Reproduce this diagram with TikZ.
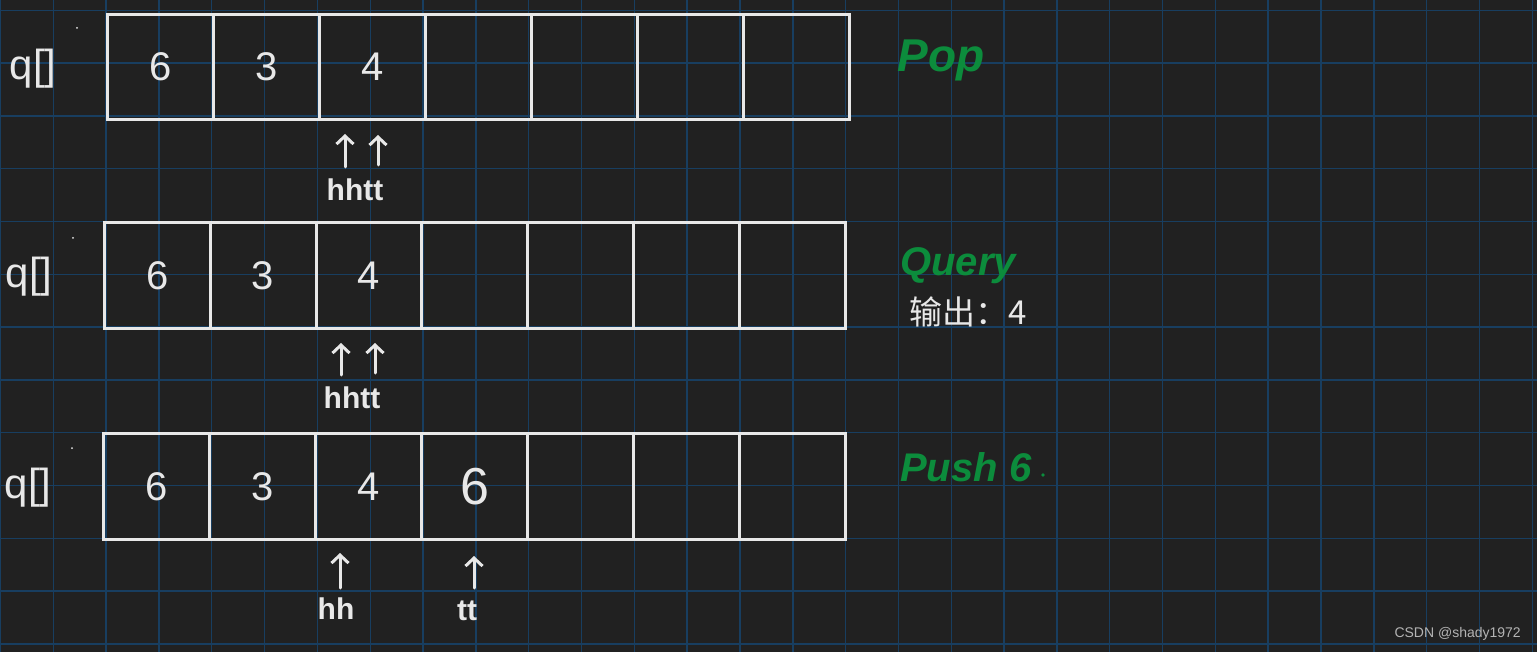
\documentclass[tikz,border=0pt]{standalone}
\usepackage{fontspec}
\setmainfont{Liberation Sans}
\newfontfamily\cjk{Noto Sans CJK SC}
\usetikzlibrary{arrows.meta}
\definecolor{bg}{HTML}{212121}
\definecolor{gridblue}{HTML}{183E60}
\definecolor{ink}{HTML}{E8E8E8}
\definecolor{pen}{HTML}{0C8C3C}
\definecolor{wm}{HTML}{B4B4B4}
\newcommand{\fs}[1]{\fontsize{#1}{#1}\selectfont}
\begin{document}
\begin{tikzpicture}[x=1pt,y=-1pt,
  cellbox/.style={draw=ink,line width=3pt,minimum width=105.86pt,minimum height=105.5pt,
    inner sep=0pt,outer sep=0pt,text=ink,font=\fs{40}},
  bigdigit/.style={font=\fs{52}},
  qlabel/.style={text=ink,font=\fs{42},inner sep=0pt},
  ptrlabel/.style={text=ink,font=\bfseries\fs{30},inner sep=0pt},
  ptr/.style={draw=ink,line width=3pt,line cap=round,-{Straight Barb[length=8pt,width=17pt,line width=3pt]}},
  optext/.style={text=pen,font=\bfseries\itshape\fs{40},inner sep=0pt},
  outtext/.style={text=ink,font=\cjk\fs{33},inner sep=0pt},
  wmtext/.style={text=wm,font=\fs{14},inner sep=0pt},
  gridline/.style={draw=gridblue,line width=1.4pt}]
\useasboundingbox (0,0) rectangle (1537,652);
\fill[bg] (0,0) rectangle (1537,652);
% grid
\foreach \k in {0,...,29} \draw[gridline] ({0.5+52.82*\k},0) -- ({0.5+52.82*\k},652);
\foreach \k in {0,...,12} \draw[gridline] (0,{10.3+52.8*\k}) -- (1537,{10.3+52.8*\k});

% ---------- row 1 : Pop ----------
\node[qlabel] (q1) at (33,69) {q[]};
\fill[ink] (77,28) circle (1);
\node[cellbox] (a0) at (160.9,67) {6};
\node[cellbox] (a1) at (266.8,67) {3};
\node[cellbox] (a2) at (372.7,67) {4};
\node[cellbox] (a3) at (478.5,67) {};
\node[cellbox] (a4) at (584.4,67) {};
\node[cellbox] (a5) at (690.2,67) {};
\node[cellbox] (a6) at (796.1,67) {};
\node[ptrlabel] (p1) at (355,190) {hhtt};
\coordinate (p1h) at (345,134); \coordinate (p1ht) at (345,167);
\coordinate (p1t) at (378,135); \coordinate (p1tt) at (378,165);
\draw[ptr] (p1ht) -- (p1h);
\draw[ptr] (p1tt) -- (p1t);
\node[optext,font=\bfseries\itshape\fs{46}] (op1) at (941,60) {Pop};

% ---------- row 2 : Query ----------
\node[qlabel] (q2) at (29,277) {q[]};
\fill[ink] (73,238) circle (1);
\node[cellbox] (b0) at (157.2,275.5) {6};
\node[cellbox] (b1) at (263.1,275.5) {3};
\node[cellbox] (b2) at (369.0,275.5) {4};
\node[cellbox] (b3) at (474.8,275.5) {};
\node[cellbox] (b4) at (580.7,275.5) {};
\node[cellbox] (b5) at (686.5,275.5) {};
\node[cellbox] (b6) at (792.4,275.5) {};
\node[ptrlabel] (p2) at (352,398) {hhtt};
\coordinate (p2h) at (341,343); \coordinate (p2ht) at (341,375);
\coordinate (p2t) at (375,343); \coordinate (p2tt) at (375,373);
\draw[ptr] (p2ht) -- (p2h);
\draw[ptr] (p2tt) -- (p2t);
\node[optext] (op2) at (958,266) {Query};
\node[outtext] (out2) at (968,312) {输出：4};

% ---------- row 3 : Push 6 ----------
\node[qlabel] (q3) at (28,488) {q[]};
\fill[ink] (72,448) circle (1);
\node[cellbox] (c0) at (156.9,486.5) {6};
\node[cellbox] (c1) at (262.8,486.5) {3};
\node[cellbox] (c2) at (368.6,486.5) {4};
\node[cellbox,bigdigit] (c3) at (474.5,486.5) {6};
\node[cellbox] (c4) at (580.3,486.5) {};
\node[cellbox] (c5) at (686.2,486.5) {};
\node[cellbox] (c6) at (792.1,486.5) {};
\node[ptrlabel] (h3) at (336,609) {hh};
\node[ptrlabel] (t3) at (467,611) {tt};
\coordinate (h3a) at (340,553); \coordinate (h3b) at (340,588);
\coordinate (t3a) at (474,556); \coordinate (t3b) at (474,588);
\draw[ptr] (h3b) -- (h3a);
\draw[ptr] (t3b) -- (t3a);
\node[optext,anchor=west] (op3) at (900,467) {Push 6};
\fill[pen] (1043,475) circle (1.8);

% watermark
\node[wmtext,anchor=east] (wm) at (1521,634) {CSDN @shady1972};
\end{tikzpicture}
\end{document}
